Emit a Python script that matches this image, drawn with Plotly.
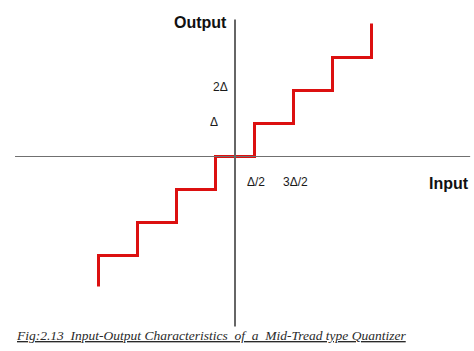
import plotly.graph_objects as go

# Quantizer staircase (units of delta): riser positions and output levels
riser_x = [-3.5, -2.5, -1.5, -0.5, 0.5, 1.5, 2.5, 3.5, 3.5]
level_y = [-3.94, -3.0, -2.0, -1.0, 0.0, 1.0, 2.0, 3.0, 4.03]

# Tick labels
y_tick_vals = [1.0, 2.05]
y_tick_text = ["Δ", "2Δ"]
y_tick_xpos = [-0.38, -0.13]
x_tick_vals = [0.5, 1.5]
x_tick_text = ["Δ/2", "3Δ/2"]

# Axes extents (units of delta)
h_axis = [-5.64, 6.03]
v_axis = [-5.15, 4.15]

W, H = 474, 351
x0px, y0px, sx, sy = 235, 156.5, 39.0, 33.0
xr = [(0 - x0px) / sx, (W - x0px) / sx]
yr = [(y0px - H) / sy, (y0px - 0) / sy]

fig = go.Figure()
fig.add_trace(go.Scatter(x=riser_x, y=level_y, mode="lines", line_shape="vh",
                         line=dict(color="#dc1010", width=3), hoverinfo="skip"))

fig.add_shape(type="line", x0=h_axis[0], x1=h_axis[1], y0=0, y1=0,
              line=dict(color="#707070", width=1))
fig.add_shape(type="line", x0=0, x1=0, y0=v_axis[0], y1=v_axis[1],
              line=dict(color="#666666", width=2))

small = dict(family="Liberation Sans, Arial", size=12, color="#1a1a1a")
for v, t, xp in zip(y_tick_vals, y_tick_text, y_tick_xpos):
    fig.add_annotation(x=xp, y=v + 0.05, text=t, showarrow=False, xanchor="right",
                       yanchor="middle", font=small)
for v, t in zip(x_tick_vals, x_tick_text):
    fig.add_annotation(x=v + 0.05, y=-0.78, text=t, showarrow=False, xanchor="center",
                       yanchor="middle", font=small)

big = dict(family="Liberation Sans, Arial", size=16, color="#111111")
fig.add_annotation(x=-0.15, y=4.05, text="<b>Output</b>", showarrow=False,
                   xanchor="right", yanchor="middle", font=big)
fig.add_annotation(x=6.05, y=-0.83, text="<b>Input</b>", showarrow=False,
                   xanchor="right", yanchor="middle", font=big)

caption = "Fig:2.13\u00a0 Input-Output Characteristics\u00a0 of\u00a0 a\u00a0 Mid-Tread type Quantizer"
fig.add_annotation(x=14 / W, y=1 - 335 / H, xref="paper", yref="paper",
                   text="<u><i>" + caption + "</i></u>", showarrow=False,
                   xanchor="left", yanchor="middle",
                   font=dict(family="Liberation Serif", size=13.5, color="#2a2a2a"))

fig.update_xaxes(range=xr, visible=False, fixedrange=True)
fig.update_yaxes(range=yr, visible=False, fixedrange=True)
fig.update_layout(width=W, height=H, margin=dict(l=0, r=0, t=0, b=0),
                  plot_bgcolor="white", paper_bgcolor="white", showlegend=False)

fig.write_html("out.html", config={"displayModeBar": False})
